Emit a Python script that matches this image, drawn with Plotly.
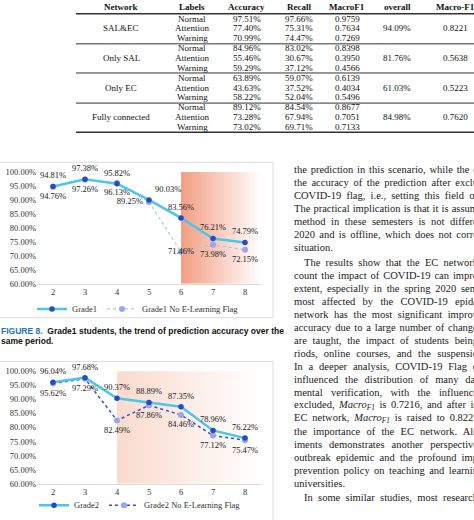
import re
import plotly.graph_objects as go

W, H = 474, 520

# ---------------- table data ----------------
headers = ["Network", "Labels", "Accuracy", "Recall", "MacroF1", "overall", "Macro-F1"]
networks = ["SAL&EC", "Only SAL", "Only EC", "Fully connected"]
labels = ["Normal", "Attention", "Warning"]
accuracy = [["97.51%", "77.40%", "70.99%"], ["84.96%", "55.46%", "59.29%"],
            ["63.89%", "43.63%", "58.22%"], ["89.12%", "73.28%", "73.02%"]]
recall = [["97.66%", "75.31%", "74.47%"], ["83.02%", "30.67%", "37.12%"],
          ["59.07%", "37.52%", "52.04%"], ["84.54%", "67.94%", "69.71%"]]
macro_f1 = [["0.9759", "0.7634", "0.7269"], ["0.8398", "0.3950", "0.4566"],
            ["0.6139", "0.4034", "0.5496"], ["0.8677", "0.7051", "0.7133"]]
overall = ["94.09%", "81.76%", "61.03%", "84.98%"]
macro_f1_all = ["0.8221", "0.5638", "0.5223", "0.7620"]

# ---------------- chart data ----------------
semesters = [2, 3, 4, 5, 6, 7, 8]
grade1 = [94.81, 97.38, 95.82, 90.03, 83.56, 76.21, 74.79]
grade1_noflag = [94.76, 97.26, 96.13, 89.25, 71.46, 73.98, 72.15]
grade2 = [96.04, 97.68, 90.37, 88.89, 87.35, 78.96, 76.22]
grade2_noflag = [95.62, 97.29, 82.49, 87.86, 84.46, 77.12, 75.47]
covid_start_g1 = 6
covid_start_g2 = 4
y_ticks = [60, 65, 70, 75, 80, 85, 90, 95, 100]
y_tick_labels = ["60.00%", "65.00%", "70.00%", "75.00%", "80.00%",
                 "85.00%", "90.00%", "95.00%", "100.00%"]

grade1_pos = ["top center", "top center", "top center", "top right",
              "top center", "top center", "top center"]
grade1_nf_pos = ["bottom center", "bottom center", "bottom center", "middle left",
                 "middle center", "bottom center", "bottom center"]
grade2_pos = ["top center"] * 7
grade2_nf_pos = ["bottom center"] * 7

# ---------------- body text ----------------
para1 = [
    "the prediction in this scenario, while the c",
    "the accuracy of the prediction after exclu",
    "COVID-19 flag, i.e., setting this field of",
    "The practical implication is that it is assum",
    "method in these semesters is not differe",
    "2020 and is offline, which does not corre",
    "situation.",
]
para2 = [
    "The results show that the EC network",
    "count the impact of COVID-19 can impro",
    "extent, especially in the spring 2020 sem",
    "most affected by the COVID-19 epide",
    "network has the most significant improv",
    "accuracy due to a large number of change",
    "are taught, the impact of students being",
    "riods, online courses, and the suspensio",
    "In a deeper analysis, COVID-19 Flag d",
    "influenced the distribution of many dat",
    "mental verification, with the influence",
    "excluded, <i>Macro<sub>F1</sub></i> is 0.7216, and after in",
    "EC network, <i>Macro<sub>F1</sub></i> is raised to 0.8221",
    "the importance of the EC network. Als",
    "iments demonstrates another perspective",
    "outbreak epidemic and the profound imp",
    "prevention policy on teaching and learnin",
    "universities.",
]
para3 = ["In some similar studies, most research"]

caption_num = "FIGURE 8."
caption_lines = ["Grade1 students, the trend of prediction accuracy over the", "same period."]


def px(x):
    return x / W


def py(y):
    return 1 - y / H


SERIF = "Liberation Serif, Times New Roman, serif"
CYAN = "#4cc6ea"
DARK = "#2748c9"
LIGHTM = "#9aa6ea"

fig = go.Figure()


def shade(xaxis, yaxis, start, color):
    fig.add_trace(go.Scatter(
        x=[start, 8.5, 8.5, start, start], y=[60, 60, 100.4, 100.4, 60],
        xaxis=xaxis, yaxis=yaxis, mode="lines", line=dict(width=0),
        fill="toself",
        fillgradient=dict(type="horizontal",
                          colorscale=[[0, color], [1, "rgba(255,255,255,1)"]]),
        hoverinfo="skip", showlegend=False))


shade("x", "y", covid_start_g1, "rgb(242,158,130)")
shade("x2", "y2", covid_start_g2, "rgb(250,218,205)")


def series(xa, ya, vals, name, lcolor, lwidth, dash, mcolor, msize, pos, legend):
    fig.add_trace(go.Scatter(
        x=semesters, y=vals, xaxis=xa, yaxis=ya, mode="lines+markers", name=name,
        line=dict(color=lcolor, width=lwidth, dash=dash),
        marker=dict(color=mcolor, size=msize), legend=legend, cliponaxis=False))
    fig.add_trace(go.Scatter(
        x=semesters, y=vals, xaxis=xa, yaxis=ya, mode="markers+text",
        marker=dict(size=8, color="rgba(0,0,0,0)"),
        text=[f"{v:.2f}%" for v in vals], textposition=pos,
        textfont=dict(family=SERIF, size=8.5, color="#222"),
        showlegend=False, hoverinfo="skip", cliponaxis=False))


series("x", "y", grade1_noflag, "Grade1 No E-Learning Flag", "#a9c3f2", 1.2, "dot",
       LIGHTM, 6, grade1_nf_pos, "legend")
series("x", "y", grade1, "Grade1", CYAN, 2.5, "solid", DARK, 5.5, grade1_pos, "legend")
series("x2", "y2", grade2_noflag, "Grade2 No E-Learning Flag", "#3152d0", 1.5, "dot",
       LIGHTM, 6, grade2_nf_pos, "legend2")
series("x2", "y2", grade2, "Grade2", CYAN, 2.5, "solid", DARK, 5.5, grade2_pos, "legend2")

xa = dict(range=[1.5, 8.5], tickvals=semesters, showgrid=False, zeroline=False,
          showline=True, linecolor="#d9d9d9", ticks="",
          tickfont=dict(family=SERIF, size=8.5, color="#333"), fixedrange=True)
ya = dict(range=[60, 100], tickvals=y_ticks, ticktext=y_tick_labels, showgrid=False,
          zeroline=False, showline=False, ticks="",
          tickfont=dict(family=SERIF, size=8.5, color="#333"), fixedrange=True)

leg = dict(orientation="h", xanchor="center", yanchor="middle",
           font=dict(family=SERIF, size=8.5, color="#333"),
           bgcolor="rgba(0,0,0,0)", traceorder="reversed", itemwidth=30)

fig.update_layout(
    width=W, height=H, margin=dict(l=0, r=0, t=0, b=0),
    paper_bgcolor="white", plot_bgcolor="rgba(0,0,0,0)",
    xaxis=dict(xa, domain=[px(37), px(261)], anchor="y"),
    yaxis=dict(ya, domain=[py(287), py(172)], anchor="x"),
    xaxis2=dict(xa, domain=[px(37), px(261)], anchor="y2"),
    yaxis2=dict(ya, domain=[py(493), py(377)], anchor="x2"),
    legend=dict(leg, x=px(138), y=py(313)),
    legend2=dict(leg, x=px(140), y=py(515)),
)

shapes = []
annotations = []

# chart frames
for y0, y1 in [(162, 322), (367, 540)]:
    shapes.append(dict(type="rect", xref="paper", yref="paper",
                       x0=px(-2), x1=px(273), y0=py(y1), y1=py(y0),
                       line=dict(color="#dcdcdc", width=1), layer="below"))

# table
TF = 9
col_x = [121, 192, 247, 299, 347, 397, 455]
for i, h in enumerate(headers):
    annotations.append(dict(x=px(col_x[i]), y=py(2.5), xref="paper", yref="paper",
                            text=f"<b>{h}</b>", showarrow=False, xanchor="center",
                            yanchor="middle", font=dict(family=SERIF, size=TF, color="#111")))
for ly, lw in [(9, 1.3), (40, 1), (70, 1), (101, 1), (131, 1.6)]:
    shapes.append(dict(type="line", xref="paper", yref="paper", x0=px(76), x1=px(480),
                       y0=py(ly), y1=py(ly), line=dict(color="#333", width=lw)))
for g, net in enumerate(networks):
    base = 14 + g * 30.5
    row_vals = [None, labels, accuracy[g], recall[g], macro_f1[g]]
    for r in range(3):
        yy = base + r * 10
        for c in range(1, 5):
            annotations.append(dict(x=px(col_x[c]), y=py(yy), xref="paper", yref="paper",
                                    text=row_vals[c][r], showarrow=False, xanchor="center",
                                    yanchor="middle",
                                    font=dict(family=SERIF, size=TF, color="#111")))
    mid = base + 10
    for c, t in [(0, net), (5, overall[g]), (6, macro_f1_all[g])]:
        annotations.append(dict(x=px(col_x[c]), y=py(mid), xref="paper", yref="paper",
                                text=t, showarrow=False, xanchor="center", yanchor="middle",
                                font=dict(family=SERIF, size=TF, color="#111")))

# caption
CAP = "Liberation Sans Narrow, Liberation Sans, Arial, sans-serif"
annotations.append(dict(x=px(-1), y=py(336), xref="paper", yref="paper", showarrow=False,
                        xanchor="left", yanchor="middle",
                        text=f"<b><span style='color:#1b74bd'>{caption_num}</span>  {caption_lines[0]}</b>",
                        font=dict(family=CAP, size=8.5, color="#111")))
annotations.append(dict(x=px(-1), y=py(345.5), xref="paper", yref="paper", showarrow=False,
                        xanchor="left", yanchor="middle", text=f"<b>{caption_lines[1]}</b>",
                        font=dict(family=CAP, size=8.5, color="#111")))

# body text (justified by word spacing estimated from Times metrics)
TW = {' ': 250, ',': 250, '.': 250, '-': 333, '&': 778, '%': 833}
TW.update({c: w for c, w in zip("abcdefghijklmnopqrstuvwxyz",
                                [444, 500, 444, 500, 444, 333, 500, 500, 278, 278, 500, 278, 778,
                                 500, 500, 500, 500, 333, 389, 278, 500, 500, 722, 500, 500, 444])})
TW.update({c: w for c, w in zip("ABCDEFGHIJKLMNOPQRSTUVWXYZ",
                                [722, 667, 667, 722, 611, 556, 722, 722, 333, 389, 722, 611, 889,
                                 722, 722, 556, 722, 667, 556, 611, 722, 722, 944, 722, 722, 611])})
for d in "0123456789":
    TW[d] = 500


def text_width(t, size):
    sub = re.findall(r"<sub>(.*?)</sub>", t)
    main = re.sub(r"<sub>.*?</sub>", "", t)
    main = re.sub(r"<[^>]+>", "", main)
    w = sum(TW.get(ch, 500) for ch in main) * size / 1000
    w += sum(TW.get(ch, 500) for s in sub for ch in s) * size * 0.7 / 1000
    return w, main.count(" ")


FS = 10.5
TXT = dict(family=SERIF, size=FS, color="#1a1a1a")
LS = 13.4
RIGHT = 476
lines = []
for k, t in enumerate(para1):
    lines.append((292, 169.3 + k * LS, t, k < len(para1) - 1))
for k, t in enumerate(para2):
    lines.append((302 if k == 0 else 292, 265 + k * LS, t, k < len(para2) - 1))
for k, t in enumerate(para3):
    lines.append((302, 507.3 + k * LS, t, True))
for x0, y0, t, justify in lines:
    txt = t
    if justify:
        w, n = text_width(t, FS)
        if n:
            ws = (RIGHT - x0 - w) / n
            txt = f"<span style='word-spacing:{ws:.2f}px'>{t}</span>"
    annotations.append(dict(x=px(x0), y=py(y0), xref="paper", yref="paper", text=txt,
                            showarrow=False, xanchor="left", yanchor="middle", font=TXT))

fig.update_layout(shapes=shapes, annotations=annotations)
fig.write_html("out.html", config={"displayModeBar": False},
               post_script="document.body.style.margin='0';document.body.style.overflow='hidden';")
